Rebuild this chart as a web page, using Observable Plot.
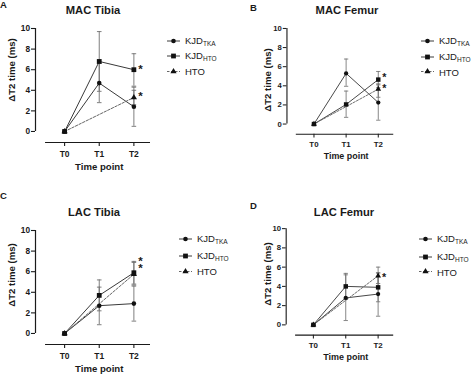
<!DOCTYPE html>
<html><head><meta charset="utf-8">
<script src="https://cdn.jsdelivr.net/npm/d3@7"></script>
<script src="https://cdn.jsdelivr.net/npm/@observablehq/plot@0.6"></script>
<style>
body{margin:0;background:#fff;}
#chart{position:relative;width:474px;height:375px;overflow:hidden;font-family:"Liberation Sans",Arial,sans-serif;background:#fff;color:#1a1a1a;}
.panel{position:absolute;}
.title{position:absolute;font-weight:bold;font-size:11.2px;transform:translate(-50%,-50%);white-space:nowrap;}
.ylab{position:absolute;font-weight:bold;font-size:9.6px;transform:translate(-50%,-50%) rotate(-90deg);white-space:nowrap;}
.letter{position:absolute;font-weight:bold;font-size:9.5px;transform:translateY(-50%);}
.leg{position:absolute;font-size:9.5px;white-space:nowrap;display:flex;align-items:center;transform:translateY(-50%);}
.leg sub{font-size:6.5px;vertical-align:-2px;}
.leg span{margin-left:5px;}
</style></head>
<body><div id="chart"></div>
<script>
// ---- data ----
const times = ["T0", "T1", "T2"];
const panelTitles = ["MAC Tibia", "MAC Femur", "LAC Tibia", "LAC Femur"];
const panelLetters = ["A", "B", "C", "D"];
const seriesLabels = ["KJD", "KJD", "HTO"];
const seriesSubs = ["TKA", "HTO", ""];
const yTicks = [0, 2, 4, 6, 8, 10];
const yLabel = "ΔT2 time (ms)";
const xLabel = "Time point";

// per series: per panel values at T0, T1, T2 (null = not measured)
const kjdTkaMean = [[0, 4.7, 2.4], [0, 5.3, 2.25], [0, 2.7, 2.9], [0, 2.8, 3.2]];
const kjdTkaLow  = [[0, 2.8, 0.5], [0, 3.95, 0.4], [0, 0.85, 1.2], [0, 0.45, 0.9]];
const kjdTkaHigh = [[0, 6.6, 4.3], [0, 6.8, 4.1], [0, 4.5, 4.6], [0, 5.2, 5.4]];

const kjdHtoMean = [[0, 6.8, 6.0], [0, 2.05, 4.65], [0, 3.7, 5.9], [0, 4.0, 3.9]];
const kjdHtoLow  = [[0, 3.9, 4.4], [0, 0.7, 3.8], [0, 2.2, 4.8], [0, 2.7, 2.4]];
const kjdHtoHigh = [[0, 9.7, 7.55], [0, 3.45, 5.5], [0, 5.2, 7.0], [0, 5.35, 5.4]];

const htoMean = [[0, null, 3.3], [0, null, 3.65], [0, null, 5.75], [0, null, 5.1]];
const htoLow  = [[0, null, 2.6], [0, null, 2.8], [0, null, 4.7], [0, null, 4.3]];
const htoHigh = [[0, null, 4.0], [0, null, 4.2], [0, null, 6.9], [0, null, 6.0]];

// significance stars (panel index, time index, value level)
const starPanel = [0, 0, 1, 1, 2, 2, 3];
const starTime  = [2, 2, 2, 2, 2, 2, 2];
const starValue = [6.34, 3.72, 5.1, 3.97, 7.27, 6.59, 5.2];

// ---- build table ----
const means = [kjdTkaMean, kjdHtoMean, htoMean];
const lows = [kjdTkaLow, kjdHtoLow, htoLow];
const highs = [kjdTkaHigh, kjdHtoHigh, htoHigh];
const rows = [];
for (let p = 0; p < panelTitles.length; p++)
  for (let s = 0; s < 3; s++)
    for (let t = 0; t < times.length; t++) {
      const m = means[s][p][t];
      if (m == null) continue;
      rows.push({panel: p, series: s, t, mean: m, lo: lows[s][p][t], hi: highs[s][p][t]});
    }
const stars = starPanel.map((p, i) => ({panel: p, t: starTime[i], v: starValue[i]}));

// ---- layout / style ----
const layout = [
  {left: 0,     top: 0,   title: [93, 10],     ylab: [11, 70],   letter: [0, 4],       leg: [167, [40.5, 56, 71]]},
  {left: 254,   top: 2,   title: [347, 10],    ylab: [267, 80],  letter: [250, 6.5],   leg: [421, [40.5, 56.5, 71.5]]},
  {left: 0,     top: 202, title: [94, 211.7],  ylab: [11, 275],  letter: [0, 195],     leg: [179, [239, 256, 271]]},
  {left: 252.5, top: 202, title: [344, 211.7], ylab: [267, 274], letter: [250, 204.5], leg: [419, [239, 256.5, 271.5]]}
];
const xDomain = [-0.84, 2.5];
const yDomain = [-1.07, 10];
const xAxisSpan = [-0.55, 2.48];
const lineColor = "#3a3a3a";
const errColor = "#707070";
const symbols = ["circle", "square", "triangle"];
const symR = [2.3, 2.7, 2.3];
const capSymbol = {draw(ctx, size) { const r = Math.sqrt(size / Math.PI); ctx.moveTo(-r, 0); ctx.lineTo(r, 0); }};

const chart = document.getElementById("chart");

function addDiv(cls, x, y, html) {
  const d = document.createElement("div");
  d.className = cls;
  d.style.left = x + "px"; d.style.top = y + "px";
  d.innerHTML = html;
  chart.appendChild(d);
  return d;
}

layout.forEach((L, p) => {
  const data = rows.filter(d => d.panel === p);
  const errs = data.filter(d => d.t > 0);
  const marks = [];
  // axis lines
  marks.push(Plot.ruleX([xDomain[0]], {y1: 0, y2: 10, stroke: "#1a1a1a", strokeWidth: 1.2}));
  marks.push(Plot.ruleY([yDomain[0]], {x1: xAxisSpan[0], x2: xAxisSpan[1], stroke: "#1a1a1a", strokeWidth: 1.2}));
  marks.push(Plot.axisY(yTicks, {tickSize: 4, tickPadding: 1.5, fontSize: 8.3, fontWeight: "bold", fill: "#1a1a1a", stroke: "#1a1a1a", strokeWidth: 1.1, label: null}));
  marks.push(Plot.axisX([0, 1, 2], {tickSize: 4, tickPadding: 4, fontSize: 8.5, fontWeight: "bold", fill: "#1a1a1a", stroke: "#1a1a1a", strokeWidth: 1.1, tickFormat: i => times[i], label: null}));
  // x axis title, centered under the middle time point
  marks.push(Plot.text([xLabel], {x: () => 1, frameAnchor: "bottom", dy: 27, fontSize: 9.6, fontWeight: "bold", fill: "#1a1a1a"}));
  // error bars
  marks.push(Plot.ruleX(errs, {x: "t", y1: "lo", y2: "hi", stroke: errColor, strokeWidth: 0.9}));
  marks.push(Plot.dot(errs, {x: "t", y: "lo", symbol: capSymbol, r: 2.3, stroke: errColor, strokeWidth: 0.9, fill: "none"}));
  marks.push(Plot.dot(errs, {x: "t", y: "hi", symbol: capSymbol, r: 2.3, stroke: errColor, strokeWidth: 0.9, fill: "none"}));
  // lines
  for (let s = 0; s < 3; s++) {
    const sd = data.filter(d => d.series === s);
    marks.push(Plot.line(sd, {x: "t", y: "mean", stroke: s === 2 ? "#666" : lineColor, strokeWidth: 1, strokeDasharray: s === 2 ? "2.5,1.5" : null}));
  }
  // markers
  for (let s = 0; s < 3; s++) {
    const sd = data.filter(d => d.series === s);
    marks.push(Plot.dot(sd, {x: "t", y: "mean", symbol: symbols[s], r: symR[s], fill: "#111", stroke: "none"}));
  }
  // stars
  marks.push(Plot.text(stars.filter(d => d.panel === p), {x: "t", y: "v", text: () => "*", dx: 6.5, dy: 3, fontSize: 11.5, fontWeight: "bold", fill: "#1a1a1a"}));

  const svg = Plot.plot({
    width: 237, height: 190,
    marginLeft: 35, marginRight: 86.3, marginTop: 28, marginBottom: 48,
    x: {type: "linear", domain: xDomain, axis: null},
    y: {type: "linear", domain: yDomain, axis: null},
    style: {fontFamily: "'Liberation Sans', Arial, sans-serif", background: "transparent", overflow: "visible"},
    marks
  });
  const wrap = document.createElement("div");
  wrap.className = "panel";
  wrap.style.left = L.left + "px";
  wrap.style.top = L.top + "px";
  wrap.appendChild(svg);
  chart.appendChild(wrap);

  addDiv("title", L.title[0], L.title[1], panelTitles[p]);
  addDiv("ylab", L.ylab[0], L.ylab[1], yLabel);
  addDiv("letter", L.letter[0], L.letter[1], panelLetters[p]);

  for (let s = 0; s < 3; s++) {
    const sym = d3.symbol(s === 0 ? d3.symbolCircle : s === 1 ? d3.symbolSquare : d3.symbolTriangle, Math.PI * symR[s] * symR[s])();
    const dash = s === 2 ? ' stroke-dasharray="2.5,1.5"' : '';
    addDiv("leg", L.leg[0], L.leg[1][s],
      `<svg width="13" height="8" style="overflow:visible"><line x1="0" y1="4" x2="13" y2="4" stroke="${s === 2 ? '#666' : lineColor}" stroke-width="1"${dash}/><path d="${sym}" transform="translate(6.5,4)" fill="#111"/></svg><span>${seriesLabels[s]}${seriesSubs[s] ? `<sub>${seriesSubs[s]}</sub>` : ''}</span>`);
  }
});
</script>
</body></html>
